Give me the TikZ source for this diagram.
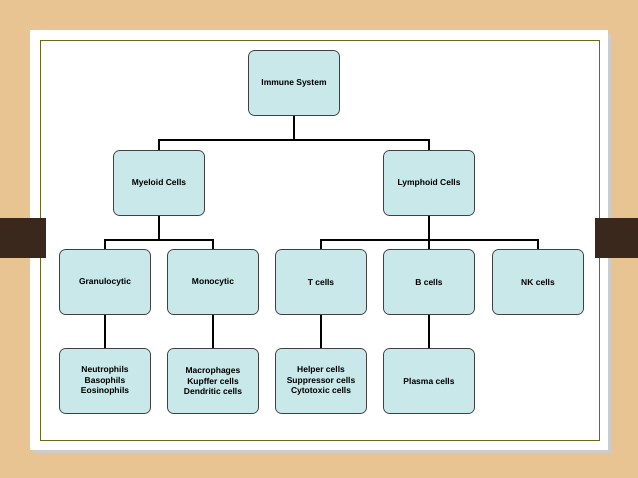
\documentclass[tikz,border=0pt]{standalone}
\usepackage{fontspec}
\setmainfont{Liberation Sans}
\begin{document}
\begin{tikzpicture}[x=1pt,y=-1pt,
  box/.style={draw=black!75,line width=0.8pt,fill=boxfill,rounded corners=6pt,minimum width=91pt,minimum height=65pt,align=center,font=\fontsize{8.5}{10.5}\selectfont\bfseries},
  conn/.style={line width=1.8pt}]
\definecolor{boxfill}{RGB}{200,232,234}
\definecolor{wood}{RGB}{231,196,146}
\definecolor{tab}{RGB}{58,40,28}
\useasboundingbox (0,0) rectangle (638,478);
\fill[wood] (0,0) rectangle (638,478);
\fill[black!20] (33,33) rectangle (611,453);
\fill[white] (30,30) rectangle (608,450);
\draw[olive!70!black,line width=0.6pt] (40,40) rectangle (599,440);
\fill[tab] (0,218) rectangle (46,258);
\fill[tab] (595,218) rectangle (638,258);
\node[box] (imm) at (294,83) {Immune System};
\node[box] (mye) at (159,183) {Myeloid Cells};
\node[box] (lym) at (429,183) {Lymphoid Cells};
\node[box] (gra) at (105,282) {Granulocytic};
\node[box] (mon) at (213,282) {Monocytic};
\node[box] (tc) at (321,282) {T cells};
\node[box] (bc) at (429,282) {B cells};
\node[box] (nk) at (538,282) {NK cells};
\node[box] (neu) at (105,381) {Neutrophils\\Basophils\\Eosinophils};
\node[box] (mac) at (213,381) {Macrophages\\Kupffer cells\\Dendritic cells};
\node[box] (hel) at (321,381) {Helper cells\\Suppressor cells\\Cytotoxic cells};
\node[box] (pla) at (429,381) {Plasma cells};
\draw[conn] (imm.south) |- (159,140) -- (mye.north);
\draw[conn] (imm.south) |- (429,140) -- (lym.north);
\draw[conn] (mye.south) |- (105,240) -- (gra.north);
\draw[conn] (mye.south) |- (213,240) -- (mon.north);
\draw[conn] (lym.south) |- (321,240) -- (tc.north);
\draw[conn] (lym.south) -- (bc.north);
\draw[conn] (lym.south) |- (538,240) -- (nk.north);
\draw[conn] (gra) -- (neu);
\draw[conn] (mon) -- (mac);
\draw[conn] (tc) -- (hel);
\draw[conn] (bc) -- (pla);
\end{tikzpicture}
\end{document}
